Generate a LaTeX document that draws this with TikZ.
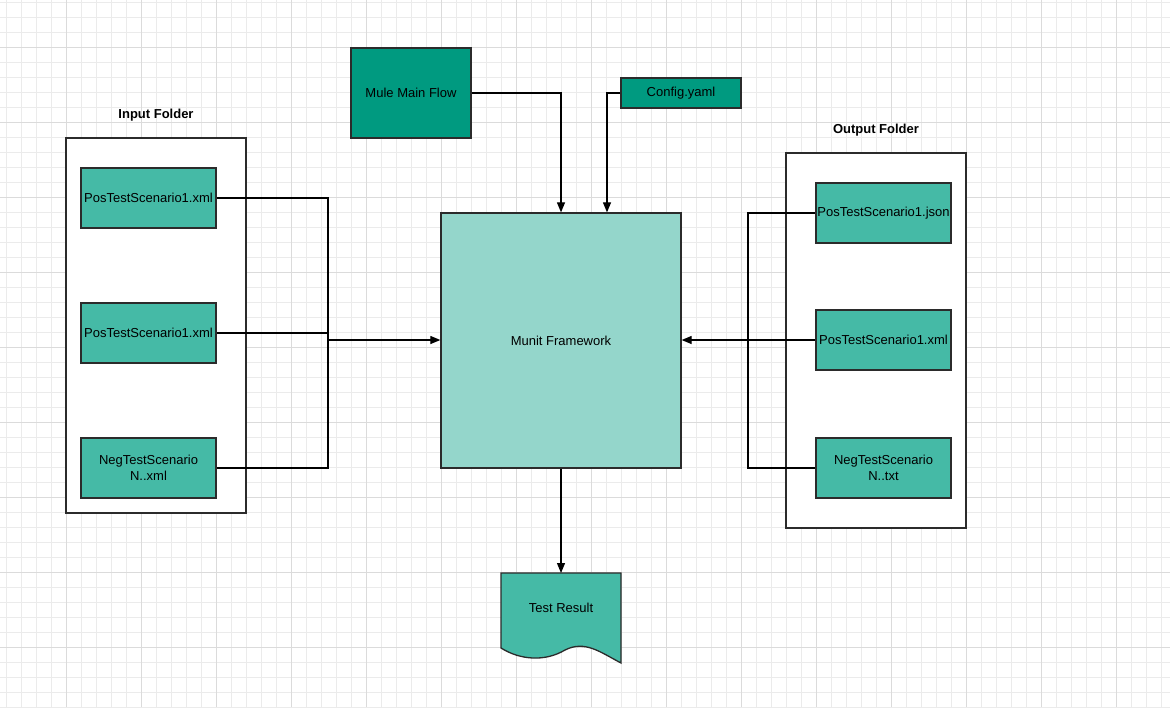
\documentclass[tikz,border=0pt]{standalone}
\usepackage{fontspec}
\setmainfont{Liberation Sans}
\usepackage{xcolor}
\usetikzlibrary{arrows.meta, positioning}

\definecolor{tealmid}{HTML}{45BAA6}
\definecolor{tealdark}{HTML}{009A80}
\definecolor{teallight}{HTML}{94D6CB}
\definecolor{edge}{HTML}{2B2B2B}

\tikzset{
  box/.style={draw=edge, line width=1.3pt, fill=tealmid, minimum width=135pt, minimum height=60pt, inner sep=0pt, align=center, font=\fontsize{13}{16}\selectfont},
  folder/.style={draw=edge, line width=1.3pt, fill=white, minimum width=180pt, minimum height=375pt},
  title/.style={font=\fontsize{13}{15}\selectfont\bfseries},
  link/.style={line width=1.2pt, black},
  arrow/.style={link, -{Triangle[length=10pt, width=8pt]}}
}

\begin{document}
\begin{tikzpicture}[x=1pt, y=-1pt]
    \useasboundingbox (0,0) rectangle (1170,707);

    % Grid background
    \foreach \gx in {6,21,...,1170} \draw[black!8, line width=0.7pt] (\gx,0) -- (\gx,707);
    \foreach \gy in {2,17,...,707} \draw[black!8, line width=0.7pt] (0,\gy) -- (1170,\gy);
    \foreach \gx in {66,141,...,1170} \draw[black!14, line width=0.9pt] (\gx,0) -- (\gx,707);
    \foreach \gy in {47,122,...,707} \draw[black!14, line width=0.9pt] (0,\gy) -- (1170,\gy);

    % Folders
    \node[folder] (infolder) at (156,325.5) {};
    \node[title] (intitle) at (156,115) {Input Folder};
    \node[folder] (outfolder) at (876,340.5) {};
    \node[title] (outtitle) at (876,130) {Output Folder};

    % Input files
    \node[box] (in1) at (148.5,198) {PosTestScenario1.xml};
    \node[box] (in2) at (148.5,333) {PosTestScenario1.xml};
    \node[box] (in3) at (148.5,468) {NegTestScenario\\N..xml};

    % Output files
    \node[box] (out1) at (883.5,213) {PosTestScenario1.json};
    \node[box] (out2) at (883.5,340) {PosTestScenario1.xml};
    \node[box] (out3) at (883.5,468) {NegTestScenario\\N..txt};

    % Main blocks
    \node[box, fill=teallight, minimum width=240pt, minimum height=255pt] (munit) at (561,340.5) {Munit Framework};
    \node[box, fill=tealdark, minimum width=120pt, minimum height=90pt] (mule) at (411,93) {Mule Main Flow};
    \node[box, fill=tealdark, minimum width=120pt, minimum height=30pt] (config) at (681,93) {Config.yaml};

    % Test result document
    \draw[draw=edge, line width=1.3pt, fill=tealmid]
      (501,573) -- (621,573) -- (621,663)
      .. controls (600,652) and (585,640) .. (565,650)
      .. controls (545,662) and (520,660) .. (501,648) -- cycle;
    \node[font=\fontsize{13}{15}\selectfont] (result) at (561,608) {Test Result};
    \coordinate (resulttop) at (561,573);

    % Input connectors
    \coordinate (injoin) at (328,340);
    \draw[link] (in1.east) -- (328,198) -- (328,468) -- (in3.east);
    \draw[link] (in2.east) -- (328,333);
    \draw[arrow] (injoin) -- (injoin -| munit.west);

    % Output connectors
    \draw[link] (out1.west) -- (748,213) -- (748,468) -- (out3.west);
    \draw[arrow] (out2.west) -- (out2.west -| munit.east);

    % Top inputs
    \draw[arrow] (mule.east) -| (munit.north);
    \draw[arrow] (config.west) -| ([xshift=46pt]munit.north);

    % Result
    \draw[arrow] (munit.south) -- (resulttop);
\end{tikzpicture}
\end{document}
